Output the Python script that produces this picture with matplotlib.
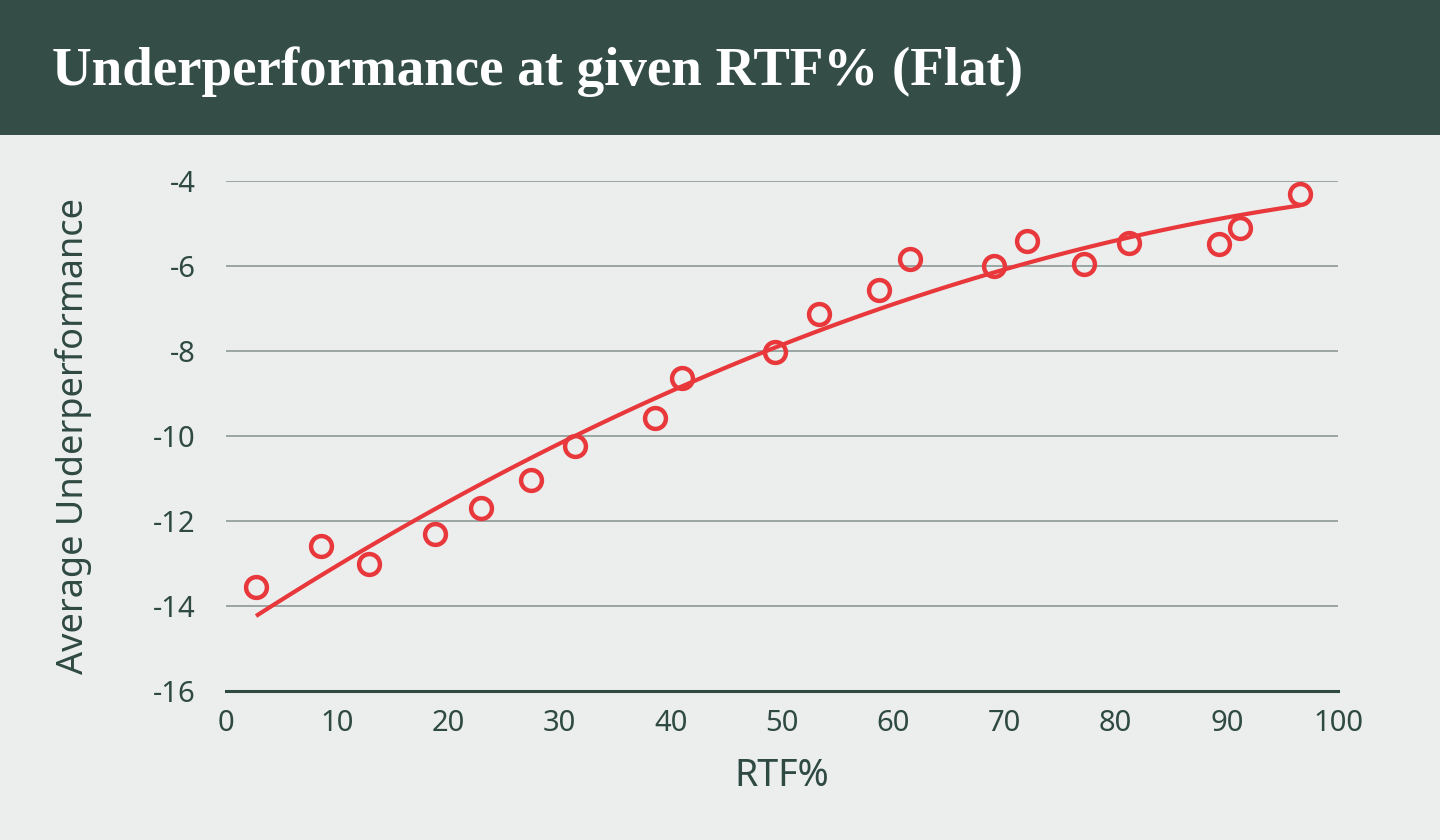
import matplotlib
import numpy as np

matplotlib.use('Agg')
import matplotlib.pyplot as plt

# RTF% vs average underperformance
rtf = [2.7, 8.5, 12.9, 18.8, 22.9, 27.4, 31.4, 38.6, 41.0, 49.4,
       53.3, 58.7, 61.5, 69.1, 72.0, 77.2, 81.2, 89.3, 91.2, 96.6]
underperf = [-13.55, -12.59, -13.01, -12.31, -11.69, -11.04, -10.24, -9.58, -8.64, -8.02,
             -7.13, -6.56, -5.84, -6.00, -5.41, -5.95, -5.46, -5.48, -5.11, -4.31]
x_ticks = [0, 10, 20, 30, 40, 50, 60, 70, 80, 90, 100]
y_ticks = [-16, -14, -12, -10, -8, -6, -4]

header_col = '#344d47'
bg_col = '#eceeed'
text_col = '#2f4a43'
grid_col = '#9aa5a1'
red = '#e8383b'

plt.rcParams['font.family'] = ['Noto Sans', 'DejaVu Sans']

fig = plt.figure(figsize=(14.4, 8.4), dpi=100, facecolor=bg_col)

# dark header band with title
fig.patches.append(plt.Rectangle((0, 1 - 135 / 840), 1, 135 / 840, transform=fig.transFigure,
                                 facecolor=header_col, edgecolor='none', zorder=0))
fig.text(52 / 1440, 1 - 72 / 840, 'Underperformance at given RTF% (Flat)', color='white',
         fontsize=39.5, fontweight='bold', family='Liberation Serif', va='center', ha='left')

ax = fig.add_axes([226 / 1440, 1 - 691 / 840, (1338 - 226) / 1440, (691 - 181) / 840])
ax.set_facecolor(bg_col)

# trendline: quadratic fit through the points
poly = np.polyfit(rtf, underperf, 2)
x_fit = np.linspace(min(rtf), max(rtf), 100)
ax.plot(x_fit, np.polyval(poly, x_fit), color=red, lw=3, zorder=3, solid_capstyle='butt')
ax.plot(rtf, underperf, 'o', ms=15, mfc='none', mec=red, mew=3.2, zorder=4, clip_on=False)

ax.set_xlim(0, 100)
ax.set_ylim(-16, -4)
ax.set_xticks(x_ticks)
ax.set_yticks(y_ticks)
ax.set_yticklabels([str(v) for v in y_ticks])
ax.grid(axis='y', color=grid_col, lw=1.4)
ax.set_axisbelow(True)
for s in ['top', 'right', 'left']:
    ax.spines[s].set_visible(False)
ax.spines['bottom'].set_color(text_col)
ax.spines['bottom'].set_linewidth(2.2)
ax.tick_params(length=0, labelsize=21, labelcolor=text_col)
ax.tick_params(axis='y', pad=22)
ax.tick_params(axis='x', pad=13)

ax.set_xlabel('RTF%', fontsize=27, color=text_col, labelpad=14)
ax.set_ylabel('Average Underperformance', fontsize=26, color=text_col, labelpad=44)

fig.savefig('out.png', dpi=100, facecolor=bg_col)
